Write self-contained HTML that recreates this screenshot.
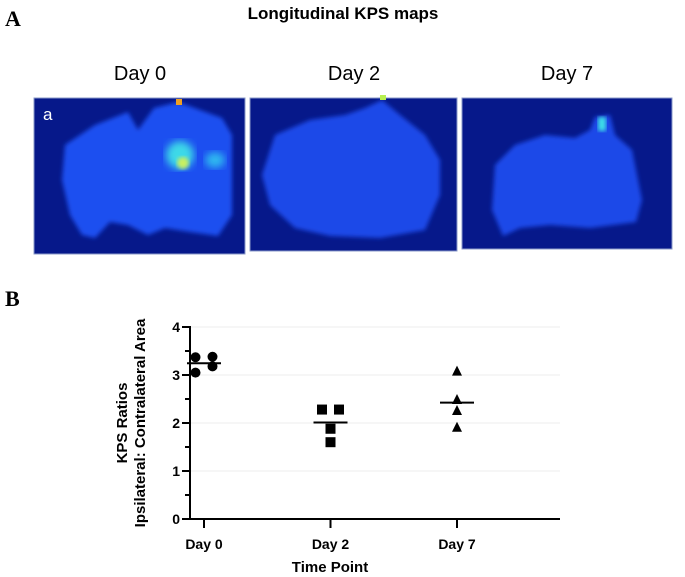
<!DOCTYPE html>
<html><head><meta charset="utf-8"><style>
body{margin:0;background:#fff;width:685px;height:577px;overflow:hidden;font-family:"Liberation Sans",sans-serif}
svg{display:block}
</style></head><body>
<svg width="685" height="577">
<text x="5" y="26" font-family="Liberation Serif" font-weight="bold" font-size="22">A</text>
<text x="343" y="19" text-anchor="middle" font-weight="bold" font-size="17">Longitudinal KPS maps</text>
<text x="140" y="80" text-anchor="middle" font-size="20">Day 0</text>
<text x="354" y="80" text-anchor="middle" font-size="20">Day 2</text>
<text x="567" y="80" text-anchor="middle" font-size="20">Day 7</text>
<defs><filter id="bl"><feGaussianBlur stdDeviation="2"/></filter><filter id="bl2"><feGaussianBlur stdDeviation="4"/></filter></defs>
<g>
<rect x="34" y="98" width="211" height="156" fill="#06188a" stroke="#8a99c8"/>
<text x="43" y="120" fill="#fff" font-size="17">a</text>
<path d="M65,145 L95,125 L128,112 L138,130 L154,108 L178,102 L222,118 L232,135 L232,215 L218,236 L190,232 L165,228 L148,235 L128,225 L110,222 L95,238 L82,235 L70,215 L62,180 Z" fill="#1d4ff0" filter="url(#bl)"/>
<ellipse cx="180" cy="155" rx="14" ry="14" fill="#3cd9e8" filter="url(#bl2)"/>
<ellipse cx="183" cy="163" rx="6" ry="6" fill="#c9f060" filter="url(#bl)"/>
<ellipse cx="215" cy="160" rx="10" ry="8" fill="#2fb7f0" filter="url(#bl2)"/>
<rect x="176" y="99" width="6" height="6" fill="#f0a020"/>
</g>
<g>
<rect x="250" y="98" width="207" height="153" fill="#06188a" stroke="#8a99c8"/>
<path d="M275,135 L310,120 L345,115 L365,108 L382,100 L400,115 L425,135 L440,160 L440,195 L425,230 L380,238 L330,236 L295,228 L270,205 L262,175 Z" fill="#1c4ae8" filter="url(#bl)"/>
<rect x="380" y="95" width="6" height="5" fill="#b8f050"/>
</g>
<g>
<rect x="462" y="98" width="210" height="151" fill="#06188a" stroke="#8a99c8"/>
<path d="M495,165 L515,145 L545,135 L575,138 L590,130 L595,117 L610,115 L615,135 L632,150 L642,200 L636,222 L590,228 L550,225 L520,228 L503,236 L492,210 Z" fill="#1c4ae8" filter="url(#bl)"/>
<rect x="598" y="117" width="8" height="14" fill="#3ce0e8" filter="url(#bl)"/>
</g>
<text x="5" y="306" font-family="Liberation Serif" font-weight="bold" font-size="22">B</text>
<g id="chart"></g>
</svg>
<script>
const categories=["Day 0","Day 2","Day 7"];
const day0Values=[3.37,3.38,3.05,3.18];
const day2Values=[2.28,2.28,1.88,1.6];
const day7Values=[3.07,2.48,2.25,1.9];
const day0Offsets=[-1,1,-1,1];
const day2Offsets=[-1,1,0,0];
const day7Offsets=[0,0,0,0];
const yTicks=[0,1,2,3,4];
const NS="http://www.w3.org/2000/svg";
const g=document.getElementById('chart');
const X0=190,X1=560,Y0=519,Y1=327;
const y=v=>Y0-(v/4)*(Y0-Y1);
const xc=i=>204+i*126.5;
function el(t,a,p){const e=document.createElementNS(NS,t);for(const k in a)e.setAttribute(k,a[k]);(p||g).appendChild(e);return e;}
yTicks.forEach(t=>{
 if(t>0){const gl=el('line',{x1:X0,x2:X1,y1:y(t),y2:y(t),stroke:'#eee','stroke-width':1});
 
 }
});
const ya=el('line',{x1:X0,x2:X0,y1:Y1-1,y2:Y0+1,stroke:'#000','stroke-width':2});


const xa=el('line',{x1:X0-8,x2:X1,y1:Y0,y2:Y0,stroke:'#000','stroke-width':2});


for(let v=0;v<=4;v+=0.5){
 const tk=el('line',{x1:X0-(v%1===0?8:5),x2:X0,y1:y(v),y2:y(v),stroke:'#000','stroke-width':2});
 
 
}
yTicks.forEach(t=>{
 const tx=el('text',{x:X0-10,y:y(t)+5,'text-anchor':'end','font-size':14,'font-weight':'bold'});tx.textContent=t;
 
 
});
categories.forEach((c,i)=>{
 const tk=el('line',{x1:xc(i),x2:xc(i),y1:Y0,y2:Y0+9,stroke:'#000','stroke-width':2});
 
 
 const tx=el('text',{x:xc(i),y:Y0+30,'text-anchor':'middle','font-size':14,'font-weight':'bold'});tx.textContent=c;
 
 
});
const sets=[[day0Values,day0Offsets,'circle'],[day2Values,day2Offsets,'square'],[day7Values,day7Offsets,'triangle']];
sets.forEach(([vals,offs,shape],i)=>{
 vals.forEach((v,j)=>{
  const cx=xc(i)+offs[j]*8.5,cy=y(v);let m;
  if(shape==='circle')m=el('circle',{cx:cx,cy:cy,r:5,fill:'#000'});
  else if(shape==='square')m=el('rect',{x:cx-5,y:cy-5,width:10,height:10,fill:'#000'});
  else m=el('polygon',{points:`${cx},${cy-6} ${cx+5},${cy+4} ${cx-5},${cy+4}`,fill:'#000'});
  
  
 });
 const mean=vals.reduce((a,b)=>a+b,0)/vals.length;
 const ml=el('line',{x1:xc(i)-17,x2:xc(i)+17,y1:y(mean),y2:y(mean),stroke:'#000','stroke-width':2});
 
 
});
const t1=el('text',{x:0,y:0,'text-anchor':'middle','font-size':15,'font-weight':'bold',transform:'translate(127,423) rotate(-90)'});t1.textContent='KPS Ratios';


const t2=el('text',{x:0,y:0,'text-anchor':'middle','font-size':15,'font-weight':'bold',transform:'translate(145,423) rotate(-90)'});t2.textContent='Ipsilateral: Contralateral Area';


const xt=el('text',{x:330,y:572,'text-anchor':'middle','font-size':15,'font-weight':'bold'});xt.textContent='Time Point';


</script>
</body></html>
